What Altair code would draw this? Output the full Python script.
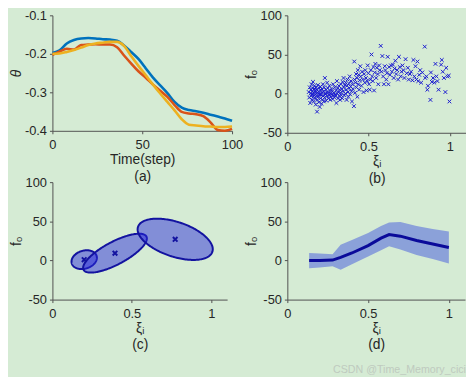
import altair as alt
import numpy as np
import pandas as pd

# ---------------- Panel (a): theta vs time ----------------
t_steps = [0, 4, 8, 12, 16, 20, 24, 28, 32, 36, 40, 44, 48, 52, 56, 60, 64, 68, 72, 76, 80, 84, 88, 92, 96, 100]
theta_blue = [-0.198, -0.191, -0.173, -0.164, -0.160, -0.159, -0.160, -0.162, -0.163, -0.166, -0.179, -0.196, -0.214,
              -0.238, -0.262, -0.282, -0.302, -0.325, -0.340, -0.346, -0.349, -0.353, -0.358, -0.363, -0.368, -0.374]
theta_red = [-0.203, -0.194, -0.187, -0.189, -0.177, -0.176, -0.175, -0.176, -0.176, -0.183, -0.205, -0.226, -0.246,
             -0.262, -0.280, -0.296, -0.312, -0.333, -0.351, -0.355, -0.357, -0.362, -0.378, -0.398, -0.400, -0.395]
theta_yellow = [-0.200, -0.199, -0.195, -0.190, -0.184, -0.177, -0.173, -0.171, -0.169, -0.169, -0.180, -0.207, -0.232,
                -0.256, -0.280, -0.303, -0.325, -0.347, -0.370, -0.384, -0.386, -0.388, -0.389, -0.390, -0.390, -0.389]
series_names = ["blue", "red", "yellow"]
series_colors = ["#0072BD", "#D95319", "#EDB120"]

# ---------------- Panel (b): scatter ----------------
xi_b = [0.132, 0.135, 0.138, 0.141, 0.143, 0.145, 0.147, 0.149, 0.151, 0.153,
        0.154, 0.156, 0.158, 0.160, 0.161, 0.163, 0.165, 0.166, 0.168, 0.170,
        0.171, 0.173, 0.175, 0.176, 0.178, 0.180, 0.181, 0.183, 0.185, 0.186,
        0.188, 0.190, 0.192, 0.194, 0.195, 0.197, 0.199, 0.201, 0.203, 0.205,
        0.207, 0.209, 0.211, 0.213, 0.215, 0.217, 0.219, 0.221, 0.223, 0.225,
        0.227, 0.229, 0.231, 0.233, 0.236, 0.238, 0.240, 0.242, 0.245, 0.247,
        0.249, 0.252, 0.254, 0.257, 0.259, 0.262, 0.264, 0.267, 0.269, 0.272,
        0.274, 0.277, 0.279, 0.282, 0.284, 0.287, 0.289, 0.292, 0.295, 0.297,
        0.300, 0.302, 0.305, 0.307, 0.310, 0.312, 0.315, 0.317, 0.320, 0.322,
        0.325, 0.327, 0.330, 0.332, 0.335,
        0.338, 0.340, 0.343, 0.346, 0.348, 0.351, 0.354, 0.357, 0.359, 0.362,
        0.365, 0.368, 0.370, 0.373, 0.376, 0.379, 0.381, 0.384, 0.387, 0.390,
        0.392, 0.395, 0.398, 0.401, 0.403, 0.410, 0.412, 0.414, 0.417, 0.420,
        0.423, 0.425, 0.428, 0.431, 0.434, 0.437, 0.440, 0.442, 0.446, 0.449,
        0.452, 0.456, 0.460, 0.465, 0.469, 0.473, 0.477, 0.480, 0.484, 0.488,
        0.492, 0.495, 0.499, 0.503, 0.507, 0.511, 0.514, 0.518, 0.522, 0.526,
        0.530, 0.534, 0.538, 0.542, 0.547, 0.551, 0.556, 0.560, 0.565, 0.569,
        0.575, 0.580, 0.585, 0.590, 0.595, 0.600, 0.604, 0.609, 0.613, 0.618,
        0.622, 0.627, 0.632, 0.638, 0.644,
        0.650, 0.655, 0.660, 0.665, 0.671, 0.676, 0.682, 0.687, 0.692, 0.698,
        0.703, 0.709, 0.715, 0.721, 0.728, 0.735, 0.742, 0.748, 0.755, 0.762,
        0.770, 0.776, 0.782, 0.789, 0.795, 0.801, 0.806, 0.812, 0.818, 0.824,
        0.831, 0.846, 0.849, 0.856, 0.862, 0.866, 0.881, 0.884, 0.890, 0.897,
        0.905, 0.912, 0.918, 0.924, 0.931, 0.947, 0.951, 0.957, 0.964, 0.973,
        0.978, 0.986, 0.998, 0.994]
fo_b = [2, -5, 8, -12, 0, 5, -3, 12, -8, 3,
        -1, 7, 15, -4, 1, -10, 6, -2, 10, 4,
        -6, 2, -14, 8, 0, -3, 5, -23, -8, 1,
        11, -4, 3, -11, 7, -1, -17, 0, 9, -6,
        4, -2, -13, 6, 1, -8, 12, -3, 3, -10,
        8, -5, 20, 0, -1, 5, -9, 2, 14, -3,
        7, -6, 1, -2, 10, 4, -8, 0, -4, 6,
        -1, 3, -7, 12, -2, 1, -5, 8, -1, -3,
        4, -12, 16, 0, 7, -6, 2, 10, -3, 5,
        -8, 1, 12, -2, 6,
        -6, 15, 3, 20, 8, -2, 11, 0, 14, 5,
        -8, 10, 18, 2, -4, 13, 7, 22, -1, 9,
        16, 3, -10, 12, 6, -16, 41, 18, 1, 14,
        25, 8, 20, -4, 30, 12, 24, 5, 17, 35,
        22, 10, 28, 18, 2, 25, 14, 30, 20, 4,
        16, 36, 26, 12, 5, 18, 30, 50, 22, 16,
        34, 4, 27, 38, 20, 33, 25, 12, 36, 30,
        61, 28, 48, 22, 12, 35, 30, 18, 26, 47,
        12, 34, 24, 36, 28,
        37, 20, 32, 42, 25, 30, 18, 47, 34, 22,
        28, 36, 30, 20, 44, 26, 33, 18, 25, 28,
        17, 43, 22, 35, 18, 41, 16, 24, 30, 14,
        27, 60, 20, 22, 5, 10, -8, 27, 15, 20,
        14, 38, 22, 16, 5, 37, 43, 28, 20, 2,
        33, 22, -10, 23]

# ---------------- Panel (c): Gaussian components ----------------
comp_ids = ["1", "2", "3"]
mu_xi = [0.200, 0.394, 0.773]
mu_fo = [1.0, 9.3, 27.0]
var_xi = [0.0064, 0.0403, 0.0560]
var_fo = [144.0, 617.0, 694.0]
cov_xifo = [0.2, 3.77, -3.0]

# ---------------- Panel (d): regression mean and band ----------------
xi_d = [0.135, 0.20, 0.28, 0.33, 0.40, 0.50, 0.58, 0.63, 0.70, 0.80, 0.90, 1.00]
mean_d = [0.0, 0.0, 0.5, 4.0, 9.5, 19.0, 28.5, 33.0, 31.0, 25.5, 21.0, 16.5]
upper_d = [9.5, 9.0, 8.0, 20.0, 26.0, 35.0, 44.0, 48.5, 49.0, 44.0, 40.0, 37.0]
lower_d = [-10.0, -9.0, -7.5, -12.0, -5.0, 5.0, 13.0, 18.0, 14.0, 7.0, 2.0, -4.0]

BG = "#d5ebd4"
DARK_BLUE = "#1313a0"
X_SHAPE = "M-1,-1L1,1M-1,1L1,-1"
LABEL_EXPR = "'' + datum.value"


def x_xi(tag):
    return alt.X("xi:Q", scale=alt.Scale(domain=[0, 1.1], nice=False, zero=False),
                 axis=alt.Axis(values=[0, 0.5, 1], title=["ξᵢ", tag], labelExpr=LABEL_EXPR))


def y_fo(field):
    return alt.Y(field, scale=alt.Scale(domain=[-50, 100], nice=False, zero=False),
                 axis=alt.Axis(values=[-50, 0, 50, 100], title="fₒ", labelExpr=LABEL_EXPR))


# (a)
df_a = pd.DataFrame({
    "t": t_steps * 3,
    "theta": theta_blue + theta_red + theta_yellow,
    "s": sum([[n] * len(t_steps) for n in series_names], []),
})
panel_a = alt.Chart(df_a).mark_line(strokeWidth=2.6, interpolate="monotone").encode(
    x=alt.X("t:Q", scale=alt.Scale(domain=[0, 100], nice=False),
            axis=alt.Axis(values=[0, 50, 100], title=["Time(step)", "(a)"], labelExpr=LABEL_EXPR)),
    y=alt.Y("theta:Q", scale=alt.Scale(domain=[-0.4, -0.1], nice=False, zero=False),
            axis=alt.Axis(values=[-0.4, -0.3, -0.2, -0.1], title="θ", titleFontStyle="italic",
                          labelExpr=LABEL_EXPR)),
    color=alt.Color("s:N", scale=alt.Scale(domain=series_names, range=series_colors), legend=None),
).properties(width=182, height=117)

# (b)
df_b = pd.DataFrame({"xi": xi_b, "fo": fo_b})
panel_b = alt.Chart(df_b).mark_point(shape=X_SHAPE, size=14, strokeWidth=1, filled=False,
                                     color="#1a1ad0", opacity=1).encode(
    x=x_xi("(b)"), y=y_fo("fo:Q")
).properties(width=181, height=119)

# (c)
rows = []
for k in range(3):
    sx = np.sqrt(var_xi[k])
    slope = cov_xifo[k] / var_xi[k]
    cond = np.sqrt(var_fo[k] - cov_xifo[k] ** 2 / var_xi[k])
    for ang in np.linspace(np.pi, 0, 91):
        dx = sx * np.cos(ang)
        yc = mu_fo[k] + slope * dx
        half = cond * np.sin(ang)
        rows.append({"comp": comp_ids[k], "xi": mu_xi[k] + dx, "lo": yc - half, "hi": yc + half})
df_ell = pd.DataFrame(rows)
df_ctr = pd.DataFrame({"comp": comp_ids, "xi": mu_xi, "fo": mu_fo})

ellipses = alt.Chart(df_ell).mark_area(color="#2828dc", fillOpacity=0.48, stroke=DARK_BLUE,
                                       strokeWidth=2).encode(
    x=x_xi("(c)"), y=y_fo("lo:Q"), y2="hi:Q", detail="comp:N"
)
centers = alt.Chart(df_ctr).mark_point(shape=X_SHAPE, size=22, strokeWidth=2, filled=False,
                                       color=DARK_BLUE, opacity=1).encode(
    x=x_xi("(c)"), y=y_fo("fo:Q")
)
panel_c = alt.layer(ellipses, centers).properties(width=177, height=119)

# (d)
df_d = pd.DataFrame({"xi": xi_d, "mean": mean_d, "upper": upper_d, "lower": lower_d})
band = alt.Chart(df_d).mark_area(color="#2a3ee0", opacity=0.43).encode(
    x=x_xi("(d)"), y=y_fo("lower:Q"), y2="upper:Q"
)
mean_line = alt.Chart(df_d).mark_line(color="#0a0a9a", strokeWidth=3).encode(
    x=x_xi("(d)"), y=y_fo("mean:Q")
)
panel_d = alt.layer(band, mean_line).properties(width=180, height=119)

chart = alt.concat(
    panel_a, panel_b, panel_c, panel_d,
    columns=2, spacing={"row": 50, "column": 56}, bounds="flush",
).properties(
    padding={"left": 2, "top": -1, "right": 0, "bottom": 0},
    title=alt.TitleParams("CSDN @Time_Memory_cici", orient="bottom", anchor="end", fontSize=10.8,
                          fontWeight="normal", color="#bfcabf", font="Liberation Sans", offset=12),
).configure(
    background=BG, font="Liberation Sans"
).configure_view(
    stroke=None
).configure_axis(
    grid=False, domainColor="#505050", tickColor="#505050", domainWidth=1, tickSize=3,
    labelColor="#262626", titleColor="#262626", labelFont="Liberation Sans", titleFont="Liberation Sans",
    labelFontSize=13, titleFontSize=14, titleFontWeight="normal", labelFlush=False, labelOverlap=False,
).configure_axisX(
    labelPadding=5, titlePadding=1, titleLineHeight=17
).configure_axisY(
    labelPadding=3, minExtent=29, maxExtent=29, titlePadding=0
)

chart.save("out.html", embed_options={"renderer": "svg", "actions": False})
